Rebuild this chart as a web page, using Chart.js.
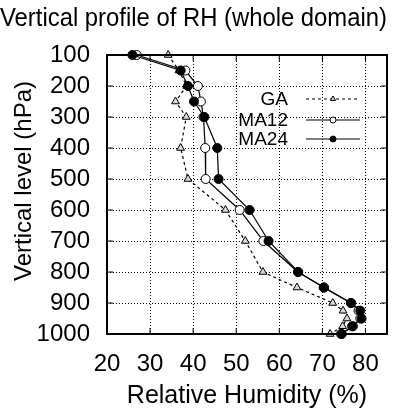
<!DOCTYPE html>
<html>
<head>
<meta charset="utf-8">
<script src="https://cdn.jsdelivr.net/npm/chart.js@4.4.1/dist/chart.umd.min.js"></script>
<style>
  html, body { margin: 0; padding: 0; background: #fff; }
</style>
</head>
<body>
<canvas id="rhChart" width="420" height="420"></canvas>
<script>
// pressure levels (hPa) and relative humidity (%) per experiment
var levels = [100, 150, 200, 250, 300, 400, 500, 600, 700, 800, 850, 900, 925, 950, 975, 1000];
var rhGA   = [34.2, 36.7, 38.5, 35.9, 38.4, 37.1, 38.8, 47.5, 52.1, 56.2, 64.1, 72.4, 74.8, 75.7, 74.7, 71.8];
var rhMA12 = [26.9, 38.2, 41.1, 41.8, 42.4, 42.8, 42.9, 50.8, 56.3, 64.3, 70.4, 76.7, 78.4, 78.8, 77.1, 74.3];
var rhMA24 = [25.9, 37.1, 38.8, 40.2, 42.6, 45.6, 45.9, 53.1, 57.5, 64.4, 70.3, 76.6, 78.8, 79.1, 76.9, 74.5];
var seriesNames = ['GA', 'MA12', 'MA24'];
var xTicks = [20, 30, 40, 50, 60, 70, 80];
var yTicks = [100, 200, 300, 400, 500, 600, 700, 800, 900, 1000];

var FONT = "'Liberation Sans', Arial, Helvetica, sans-serif";

function toPoints(vals) {
  return vals.map(function(v, i) { return { x: v, y: levels[i] }; });
}

// frame, inward ticks, y title and key
var decorations = {
  id: 'decorations',
  afterDatasetsDraw: function(chart) {
    var ctx = chart.ctx;
    var a = chart.chartArea;
    var xs = chart.scales.x, ys = chart.scales.y;
    ctx.save();
    ctx.strokeStyle = '#000';
    ctx.lineWidth = 1;
    ctx.beginPath();
    yTicks.forEach(function(v) {
      var py = ys.getPixelForValue(v);
      ctx.moveTo(a.left, py); ctx.lineTo(a.left + 6, py);
      ctx.moveTo(a.right, py); ctx.lineTo(a.right - 6, py);
    });
    xTicks.forEach(function(v) {
      var px = xs.getPixelForValue(v);
      ctx.moveTo(px, a.bottom); ctx.lineTo(px, a.bottom - 6);
      ctx.moveTo(px, a.top); ctx.lineTo(px, a.top + 6);
    });
    ctx.stroke();
    ctx.lineWidth = 2;
    ctx.strokeRect(a.left, a.top, a.right - a.left, a.bottom - a.top);

    // y axis title
    ctx.save();
    ctx.translate(24, 181);
    ctx.rotate(-Math.PI / 2);
    ctx.fillStyle = '#000';
    ctx.font = '24px ' + FONT;
    ctx.textAlign = 'center';
    ctx.textBaseline = 'middle';
    ctx.fillText('Vertical level (hPa)', 0, 0);
    ctx.restore();

    // key
    var rows = [99, 120, 139];
    ctx.font = '19px ' + FONT;
    ctx.textAlign = 'right';
    ctx.textBaseline = 'middle';
    chart.data.datasets.forEach(function(ds, i) {
      var y = rows[i];
      ctx.fillStyle = '#000';
      ctx.fillText(ds.label, 288, y + 1);
      ctx.save();
      ctx.lineWidth = ds.borderWidth;
      ctx.strokeStyle = ds.borderColor;
      ctx.setLineDash(ds.borderDash || []);
      ctx.beginPath();
      ctx.moveTo(306, y); ctx.lineTo(360, y);
      ctx.stroke();
      ctx.setLineDash([]);
      ctx.fillStyle = ds.pointBackgroundColor;
      ctx.strokeStyle = ds.pointBorderColor;
      ctx.lineWidth = 1;
      Chart.helpers.drawPoint(ctx, {
        pointStyle: ds.pointStyle, radius: 3, rotation: 0, borderWidth: 1
      }, 333, y);
      ctx.restore();
    });
    ctx.restore();
  }
};

new Chart(document.getElementById('rhChart'), {
  type: 'scatter',
  data: {
    datasets: [{
      label: seriesNames[0],
      data: toPoints(rhGA),
      order: 3,
      showLine: true,
      borderColor: '#000',
      borderWidth: 1.2,
      borderDash: [3, 3],
      pointStyle: 'triangle',
      pointRadius: 4.5,
      pointBorderWidth: 1,
      pointBorderColor: '#000',
      pointBackgroundColor: '#d8d8d8',
      clip: false
    }, {
      label: seriesNames[1],
      data: toPoints(rhMA12),
      order: 2,
      showLine: true,
      borderColor: '#000',
      borderWidth: 1.2,
      pointStyle: 'circle',
      pointRadius: 4.5,
      pointBorderWidth: 1,
      pointBorderColor: '#000',
      pointBackgroundColor: '#fff',
      clip: false
    }, {
      label: seriesNames[2],
      data: toPoints(rhMA24),
      order: 1,
      showLine: true,
      borderColor: '#000',
      borderWidth: 1.2,
      pointStyle: 'circle',
      pointRadius: 4.5,
      pointBorderWidth: 1,
      pointBorderColor: '#000',
      pointBackgroundColor: '#000',
      clip: false
    }]
  },
  options: {
    responsive: false,
    animation: false,
    layout: { padding: { left: 0, right: 33, top: 0, bottom: 0 } },
    plugins: {
      legend: { display: false },
      tooltip: { enabled: false },
      title: {
        display: true,
        text: 'Vertical profile of RH (whole domain)',
        color: '#000',
        font: { family: FONT, size: 25, weight: 'normal' },
        padding: { top: 4, bottom: 21 }
      }
    },
    scales: {
      x: {
        type: 'linear',
        min: 20,
        max: 85,
        afterBuildTicks: function(s) { s.ticks = xTicks.map(function(v) { return { value: v }; }); },
        afterFit: function(s) { s.height = 86; },
        grid: { color: '#000', lineWidth: 1, drawTicks: false },
        border: { display: false, dash: [1, 2] },
        ticks: {
          color: '#000', padding: 16, autoSkip: false, maxRotation: 0,
          font: { family: FONT, size: 24 },
          callback: function(v) { return String(v); }
        },
        title: {
          display: true,
          text: 'Relative Humidity (%)',
          color: '#000',
          font: { family: FONT, size: 25 },
          padding: { top: 0, bottom: 9 }
        }
      },
      y: {
        type: 'linear',
        reverse: true,
        min: 100,
        max: 1000,
        afterBuildTicks: function(s) { s.ticks = yTicks.map(function(v) { return { value: v }; }); },
        afterFit: function(s) { s.width = 107; },
        grid: { color: '#000', lineWidth: 1, drawTicks: false },
        border: { display: false, dash: [1, 2] },
        ticks: {
          color: '#000', padding: 17, autoSkip: false,
          font: { family: FONT, size: 24 },
          callback: function(v) { return String(v); }
        }
      }
    }
  },
  plugins: [decorations]
});
</script>
</body>
</html>
